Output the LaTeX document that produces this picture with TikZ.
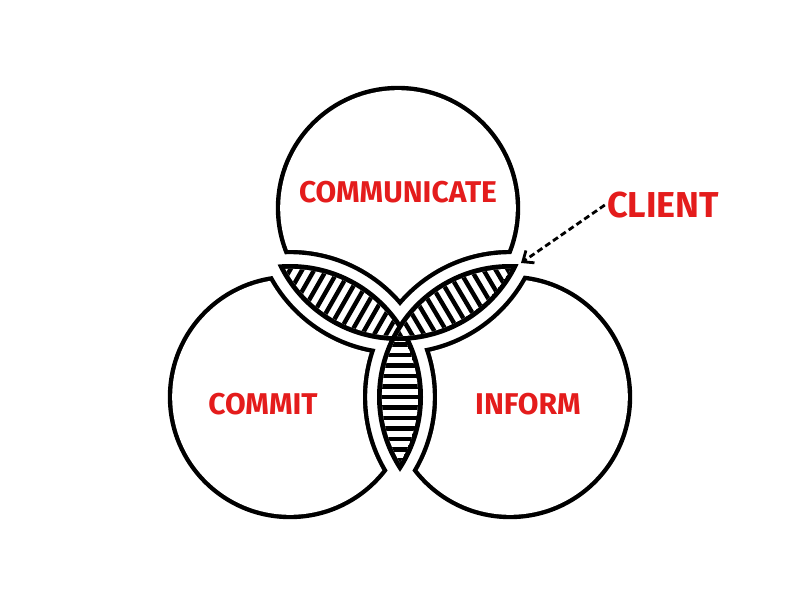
\documentclass[tikz,border=0pt]{standalone}
\usepackage{fontspec}
\setmainfont{Fira Sans}
\usetikzlibrary{arrows.meta,calc}
\definecolor{lbl}{RGB}{228,28,28}
\tikzset{
  lbltext/.style={text=lbl,font=\bfseries\fontsize{30}{30}\selectfont,inner sep=2pt},
  stripe/.style={line width=4.4pt,black},
  pointer/.style={line width=2.8pt,dash pattern=on 6pt off 3.5pt,-{Straight Barb[length=9pt,width=15pt]}}
}
\newcommand\petalshape[3]{%
  \begin{scope}[even odd rule]
    \clip (-10,-10) rectangle (810,615) (#2) circle[radius=142.8pt];
    \clip (-10,-10) rectangle (810,615) (#3) circle[radius=142.8pt];
    \fill[black] (#1) circle[radius=122.2pt];
  \end{scope}
  \begin{scope}[even odd rule]
    \clip (-10,-10) rectangle (810,615) (#2) circle[radius=147.2pt];
    \clip (-10,-10) rectangle (810,615) (#3) circle[radius=147.2pt];
    \fill[white] (#1) circle[radius=117.8pt];
  \end{scope}}
\newcommand\lensshape[4]{%
  \begin{scope}
    \clip (#1) circle[radius=133pt];
    \fill[black] (#2) circle[radius=133pt];
  \end{scope}
  \begin{scope}
    \clip (#1) circle[radius=128.1pt];
    \clip (#2) circle[radius=128.1pt];
    \fill[white] (#1) circle[radius=128.1pt];
    \begin{scope}[shift={(#4)},rotate=#3]
      \foreach \k in {-8,...,8} \draw[stripe] (-90,\k*10.5) -- (90,\k*10.5);
    \end{scope}
  \end{scope}}
\begin{document}
\begin{tikzpicture}[x=1pt,y=-1pt]
\useasboundingbox[fill=white] (0,0) rectangle (800,605);
\coordinate (T) at (398,208);
\coordinate (L) at (290,397);
\coordinate (R) at (510,397);
\coordinate (mTL) at (344,302.5);
\coordinate (mTR) at (454,302.5);
\coordinate (mLR) at (400,397);
% petals
\petalshape{T}{L}{R}
\petalshape{L}{T}{R}
\petalshape{R}{T}{L}
% lenses
\lensshape{L}{R}{0}{mLR}
\lensshape{T}{L}{60.26}{mTL}
\lensshape{T}{R}{-59.35}{mTR}
% labels
\node[lbltext] (communicate) at (398,192) {COMMUNICATE};
\node[lbltext] (commit) at (263,404) {COMMIT};
\node[lbltext] (inform) at (528,404) {INFORM};
\node[lbltext,font=\bfseries\fontsize{36}{36}\selectfont] (client) at (663,205) {CLIENT};
\coordinate (tipTR) at (521,263);
\draw[pointer] (client.west) -- (tipTR);
\end{tikzpicture}
\end{document}
